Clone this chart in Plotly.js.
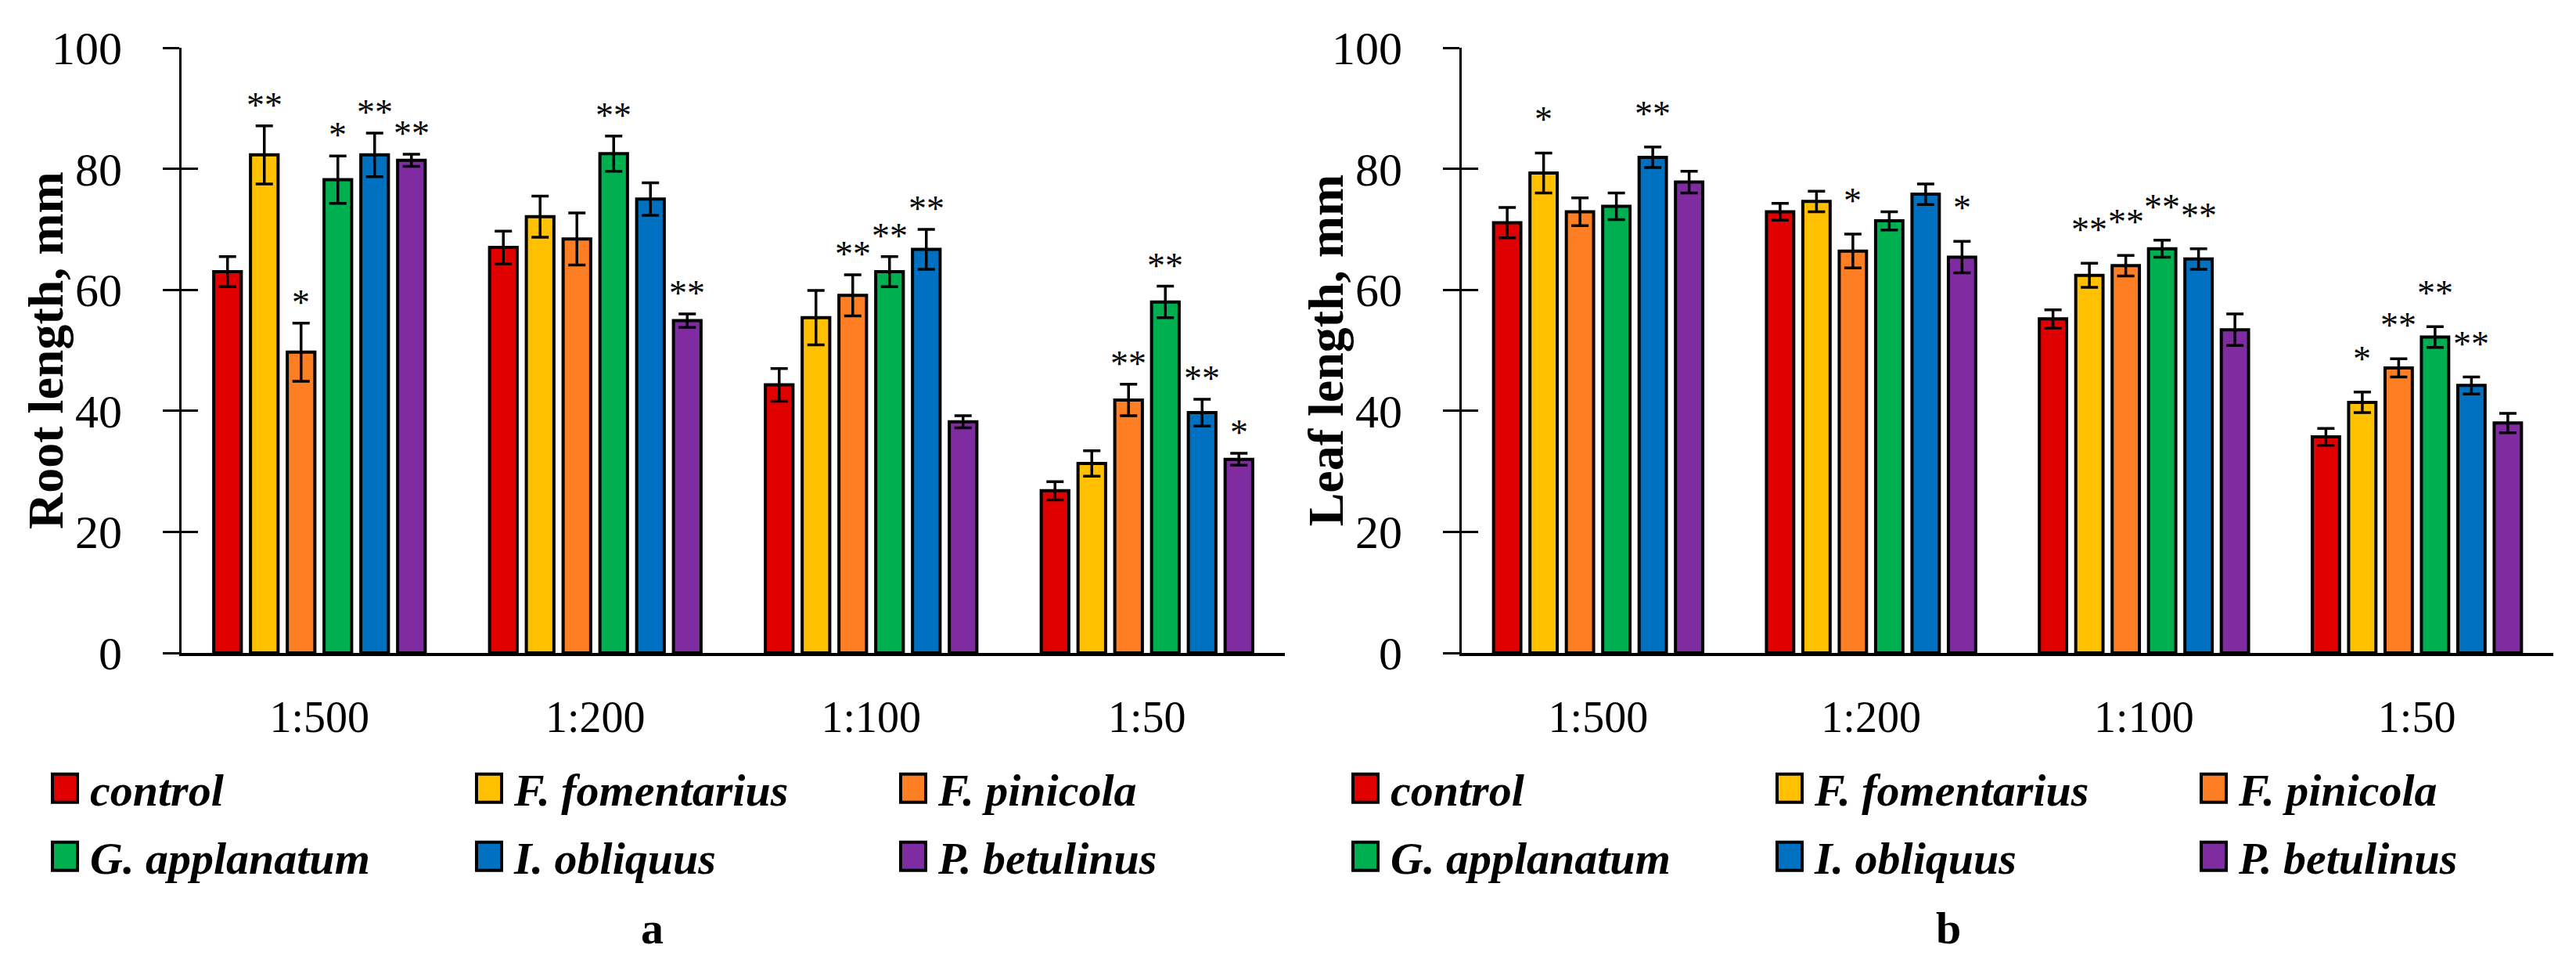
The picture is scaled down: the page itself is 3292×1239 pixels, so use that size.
<!DOCTYPE html>
<html><head><meta charset="utf-8">
<script src="https://cdn.plot.ly/plotly-3.0.1.min.js"></script>
<style>html,body{margin:0;padding:0;background:#fff}</style>
</head><body>
<div id="chart" style="width:3292px;height:1239px"></div>
<script>
// ---------- DATA ----------
const categories = ['1:500', '1:200', '1:100', '1:50'];
const seriesNames = ['control', 'F. fomentarius', 'F. pinicola', 'G. applanatum', 'I. obliquus', 'P. betulinus'];

// Root length, mm (rows = series, columns = categories)
const rootMeans = [
  [63.0, 67.0, 44.3, 26.8],
  [82.3, 72.1, 55.4, 31.3],
  [49.7, 68.4, 59.1, 41.8],
  [78.2, 82.5, 63.0, 58.0],
  [82.3, 75.0, 66.7, 39.7],
  [81.4, 54.9, 38.2, 32.0]
];
const rootErrors = [
  [2.5, 2.7, 2.7, 1.5],
  [4.8, 3.4, 4.5, 2.1],
  [4.8, 4.3, 3.4, 2.6],
  [3.9, 2.9, 2.5, 2.6],
  [3.6, 2.7, 3.3, 2.2],
  [1.0, 1.1, 1.0, 1.0]
];
const rootSignif = [
  ['', '', '', ''],
  ['**', '', '', ''],
  ['*', '', '**', '**'],
  ['*', '**', '**', '**'],
  ['**', '', '**', '**'],
  ['**', '**', '', '*']
];

// Leaf length, mm
const leafMeans = [
  [71.1, 72.9, 55.2, 35.7],
  [79.3, 74.6, 62.4, 41.4],
  [72.9, 66.4, 64.0, 47.1],
  [73.8, 71.4, 66.8, 52.2],
  [81.9, 75.8, 65.1, 44.2],
  [77.8, 65.4, 53.4, 38.0]
];
const leafErrors = [
  [2.5, 1.4, 1.5, 1.4],
  [3.3, 1.7, 2.0, 1.7],
  [2.3, 2.8, 1.7, 1.5],
  [2.2, 1.5, 1.4, 1.7],
  [1.7, 1.7, 1.7, 1.4],
  [1.8, 2.6, 2.6, 1.6]
];
const leafSignif = [
  ['', '', '', ''],
  ['*', '', '**', '*'],
  ['', '*', '**', '**'],
  ['', '', '**', '**'],
  ['**', '', '**', '**'],
  ['', '*', '', '']
];

// ---------- STYLE ----------
const seriesColors = ['#E00000', '#FFC000', '#FD7E23', '#00B050', '#0070C0', '#7F2CA0'];
const FONT = 'Liberation Serif, Times New Roman, serif';
const BARGAP = 0.2;
const BARGROUPGAP = 0.25;
const catIdx = categories.map((c, i) => i);

const panels = [
  {means: rootMeans, errs: rootErrors, sig: rootSignif, xa: 'x', ya: 'y', legends: ['legend', 'legend2'], sigShift: 0},
  {means: leafMeans, errs: leafErrors, sig: leafSignif, xa: 'x2', ya: 'y2', legends: ['legend3', 'legend4'], sigShift: 16}
];

const traces = [];
const annotations = [];
panels.forEach((p) => {
  seriesNames.forEach((name, i) => {
    traces.push({
      type: 'bar', name: name, x: catIdx, y: p.means[i],
      xaxis: p.xa, yaxis: p.ya,
      legend: i < 3 ? p.legends[0] : p.legends[1],
      marker: {color: seriesColors[i], line: {color: '#000', width: 4}},
      error_y: {type: 'data', array: p.errs[i], visible: true, color: '#000', thickness: 3.5, width: 11},
      hoverinfo: 'name+y'
    });
    p.sig[i].forEach((s, c) => {
      if (!s) return;
      annotations.push({
        xref: p.xa, yref: p.ya,
        x: c + (i - 2.5) * (1 - BARGAP) / seriesNames.length,
        y: p.means[i][c] + p.errs[i][c],
        text: s, showarrow: false, xanchor: 'center', yanchor: 'bottom', yshift: p.sigShift,
        borderpad: 0,
        font: {family: FONT, size: 46, color: '#000'}
      });
    });
  });
});
// empty helper traces so the inward tick overlays are drawn
traces.push({type: 'scatter', x: [], y: [], xaxis: 'x', yaxis: 'y3', showlegend: false, hoverinfo: 'skip'});
traces.push({type: 'scatter', x: [], y: [], xaxis: 'x2', yaxis: 'y4', showlegend: false, hoverinfo: 'skip'});

annotations.push({xref: 'paper', yref: 'paper', x: 834 / 3292, y: 1 - 1185 / 1239, text: 'a', showarrow: false,
  xanchor: 'center', yanchor: 'middle', font: {family: FONT, size: 58, weight: 'bold', color: '#000'}});
annotations.push({xref: 'paper', yref: 'paper', x: 2490 / 3292, y: 1 - 1185 / 1239, text: 'b', showarrow: false,
  xanchor: 'center', yanchor: 'middle', font: {family: FONT, size: 58, weight: 'bold', color: '#000'}});

const yDomain = [(1239 - 834) / 1239, (1239 - 61) / 1239];
function xAxis(domain, anchor) {
  return {
    domain: domain, anchor: anchor, range: [-0.5, 3.5],
    tickmode: 'array', tickvals: catIdx, ticktext: categories,
    ticks: '', showline: true, linecolor: '#000', linewidth: 3.5,
    showgrid: false, zeroline: false, ticklabelstandoff: 30,
    tickfont: {family: FONT, size: 56, color: '#000'}, fixedrange: true
  };
}
function yAxis(anchor, title) {
  return {
    domain: yDomain, anchor: anchor, range: [0, 100], dtick: 20, tick0: 0,
    ticks: 'outside', ticklen: 21, tickwidth: 3, tickcolor: '#000',
    showline: true, linecolor: '#000', linewidth: 3,
    showgrid: false, zeroline: false, ticklabelstandoff: 40,
    tickfont: {family: FONT, size: 60, color: '#000'},
    title: {text: title, font: {family: FONT, size: 64, weight: 'bold', color: '#000'}},
    fixedrange: true
  };
}
function yOverlay(base, anchor) {
  return {
    overlaying: base, anchor: anchor, range: [0, 100], dtick: 20, tick0: 0,
    ticks: 'inside', ticklen: 21, tickwidth: 3, tickcolor: '#000',
    showticklabels: false, showline: false, showgrid: false, zeroline: false, fixedrange: true
  };
}
function legendRow(x, yPix) {
  return {
    orientation: 'h', x: x, y: 1 - yPix / 1239, xanchor: 'left', yanchor: 'middle',
    entrywidth: 473, entrywidthmode: 'pixels', itemwidth: 54, traceorder: 'normal',
    bgcolor: 'rgba(0,0,0,0)', borderwidth: 0, itemclick: false, itemdoubleclick: false,
    font: {family: FONT, size: 58, style: 'italic', weight: 'bold', color: '#000'}
  };
}

const layout = {
  width: 3292, height: 1239,
  margin: {l: 0, r: 0, t: 0, b: 0, autoexpand: false},
  paper_bgcolor: '#fff', plot_bgcolor: 'rgba(0,0,0,0)',
  barmode: 'group', bargap: BARGAP, bargroupgap: BARGROUPGAP,
  xaxis: xAxis([232 / 3292, 1642 / 3292], 'y'),
  yaxis: yAxis('x', 'Root length, mm'),
  xaxis2: xAxis([1868 / 3292, 3263 / 3292], 'y2'),
  yaxis2: yAxis('x2', 'Leaf length, mm'),
  yaxis3: yOverlay('y', 'x'),
  yaxis4: yOverlay('y2', 'x2'),
  legend: legendRow(51 / 3292, 1007),
  legend2: legendRow(51 / 3292, 1094),
  legend3: legendRow(1713 / 3292, 1007),
  legend4: legendRow(1713 / 3292, 1094),
  annotations: annotations,
  showlegend: true
};

Plotly.newPlot('chart', traces, layout, {staticPlot: true, displayModeBar: false}).then(function (gd) {
  gd.querySelectorAll('.legendpoints path').forEach(function (p) {
    p.setAttribute('d', 'M16,18H-16V-18H16Z');
    p.style.strokeWidth = '4px';
    p.style.stroke = '#000';
  });
});
</script>
</body></html>
